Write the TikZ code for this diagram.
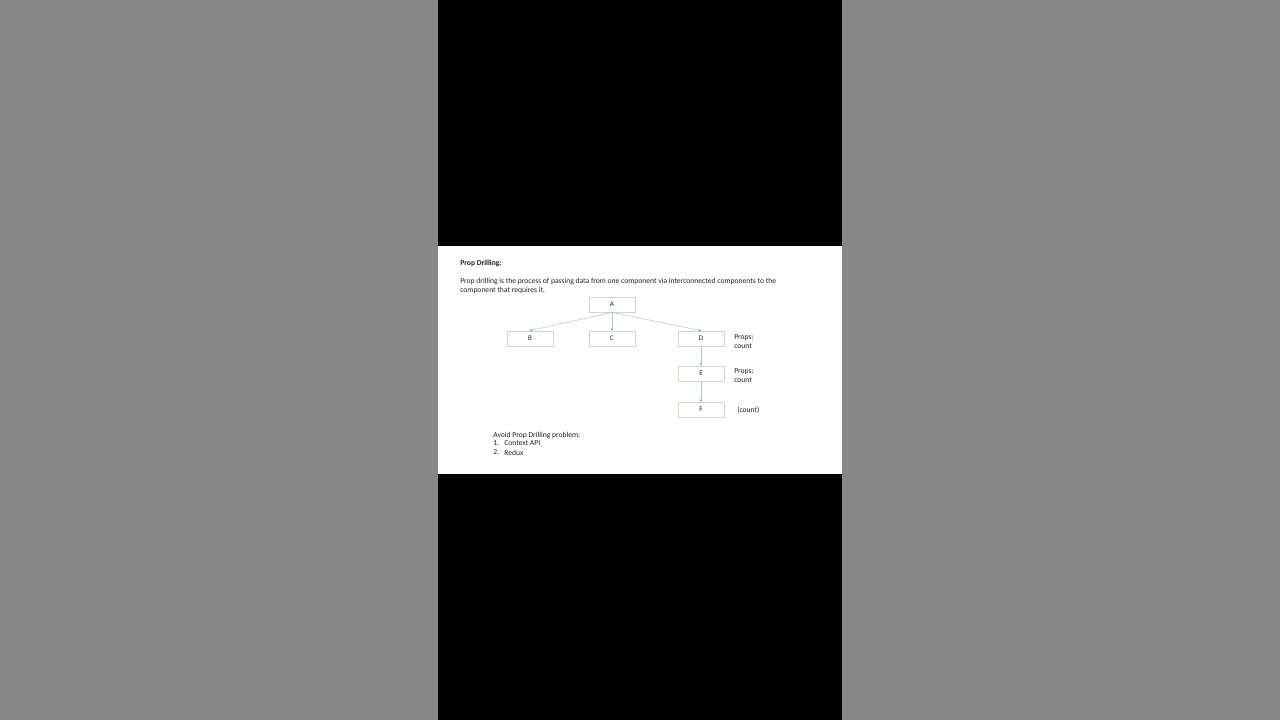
\documentclass[tikz,border=0pt]{standalone}
\usepackage{fontspec}
\setmainfont{Carlito}
\usetikzlibrary{arrows.meta}
\definecolor{sidegray}{HTML}{878787}
\definecolor{boxline}{HTML}{CCD8C0}
\definecolor{conn}{HTML}{AECACA}
\definecolor{tip}{HTML}{5B8FA8}
\definecolor{txt}{HTML}{222222}
\tikzset{
  comp/.style={draw=boxline, line width=0.6pt, minimum width=34.5pt, minimum height=11.25pt, inner sep=0pt, font=\fontsize{5.3}{6}\selectfont, text=txt},
  link/.style={draw=conn, line width=0.4pt, -{Stealth[length=1.6pt,width=1.6pt,color=tip]}},
  lbl/.style={anchor=north west, inner sep=0pt, font=\fontsize{5.7}{6.75}\selectfont, text=txt, align=left},
}
\begin{document}
\begin{tikzpicture}[x=0.75pt,y=-0.75pt]
\useasboundingbox (0,0) rectangle (1280,720);
\fill[sidegray] (0,0) rectangle (1280,720);
\fill[black] (438,0) rectangle (842,720);
\fill[white] (438,246) rectangle (842,474);
% texts
\node[lbl, font=\fontsize{5.7}{6.75}\selectfont\bfseries] (title) at (460,259.5) {Prop Drilling:};
\node[lbl] (para) at (460,277.5) {Prop drilling is the process of passing data from one component via interconnected components to the\\component that requires it.};
% boxes
\node[comp] (A) at (612,304.5) {A};
\node[comp] (B) at (530,338.5) {B};
\node[comp] (C) at (612,338.5) {C};
\node[comp] (D) at (701,338.5) {D};
\node[comp] (E) at (701,373.5) {E};
\node[comp] (F) at (701,409.5) {F};
% connectors
\draw[link] (A.south) -- (B.north);
\draw[link] (A.south) -- (C.north);
\draw[link] (A.south) -- (D.north);
\draw[link] (D.south) -- (E.north);
\draw[link] (E.south) -- (F.north);
% side labels
\node[lbl] (pd) at (734,334.5) {Props:\\count};
\node[lbl] (pe) at (734,368.5) {Props:\\count};
\node[lbl] (pf) at (737,406.5) {(count)};
% bottom list
\node[lbl] (avoid) at (493,431.5) {Avoid Prop Drilling problem:};
\node[lbl] (n1) at (493,440.5) {1.};
\node[lbl] (i1) at (504,440.5) {Context API};
\node[lbl] (n2) at (493,449.5) {2.};
\node[lbl] (i2) at (504,449.5) {Redux};
\end{tikzpicture}
\end{document}
